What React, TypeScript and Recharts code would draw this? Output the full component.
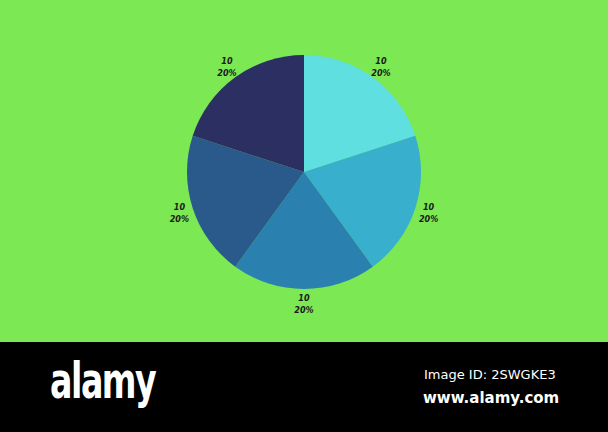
import { Pie, PieChart, Cell } from "recharts";

const segments = ["A", "B", "C", "D", "E"];
const values = [10, 10, 10, 10, 10];
const colors = ["#5fdfe0", "#38afcc", "#2a80ae", "#2a5a8c", "#2b2f62"];

const data = segments.map((name, i) => ({ name, value: values[i] }));

const RAD = Math.PI / 180;

function renderLabel(props: any) {
  const { cx, cy, midAngle, outerRadius, value, percent } = props;
  const r = outerRadius + 14;
  const x = cx + r * Math.cos(-midAngle * RAD);
  const y = cy + r * Math.sin(-midAngle * RAD);
  return (
    <text
      x={x}
      y={y}
      textAnchor="middle"
      fill="#1b1b1b"
      fontSize={9}
      fontWeight="bold"
      fontStyle="italic"
      fontFamily="'DejaVu Sans Condensed', sans-serif"
    >
      <tspan x={x} dy={-2}>{value}</tspan>
      <tspan x={x} dy={12}>{`${Math.round(percent * 100)}%`}</tspan>
    </text>
  );
}

export default function App() {
  return (
    <div style={{ position: "absolute", left: 0, top: 0, width: 608, height: 432 }}>
      <div style={{ width: 608, height: 342, background: "#7be854" }}>
        <PieChart width={608} height={342} margin={{ top: 0, right: 0, bottom: 0, left: 0 }}>
          <Pie
            data={data}
            dataKey="value"
            nameKey="name"
            cx={304}
            cy={172}
            outerRadius={117}
            startAngle={90}
            endAngle={-270}
            stroke="none"
            label={renderLabel}
            labelLine={false}
            isAnimationActive={false}
          >
            {data.map((d, i) => (
              <Cell key={d.name} fill={colors[i]} />
            ))}
          </Pie>
        </PieChart>
      </div>
      <div
        style={{
          position: "relative",
          width: 608,
          height: 90,
          background: "#000",
          color: "#fff",
          fontFamily: "'DejaVu Sans', sans-serif",
        }}
      >
        <div
          style={{
            position: "absolute",
            left: 50,
            top: 10,
            fontSize: 50,
            fontWeight: "bold",
            fontFamily: "'DejaVu Sans Condensed', sans-serif",
            letterSpacing: -2,
            transform: "scaleX(0.74)",
            transformOrigin: "left",
          }}
        >
          alamy
        </div>
        <div style={{ position: "absolute", left: 424, top: 25, fontSize: 13 }}>Image ID: 2SWGKE3</div>
        <div style={{ position: "absolute", left: 423, top: 47, fontSize: 15, fontWeight: "bold" }}>
          www.alamy.com
        </div>
      </div>
    </div>
  );
}
